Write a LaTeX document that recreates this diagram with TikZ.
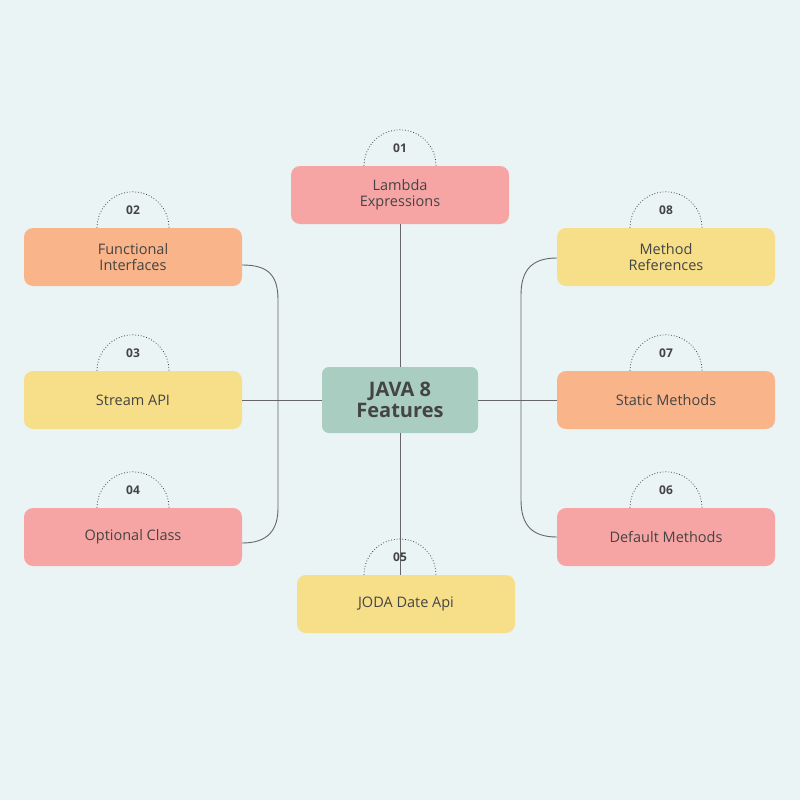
\documentclass[tikz,border=0pt]{standalone}
\usepackage{fontspec}
\setmainfont{Open Sans}
\usetikzlibrary{positioning}
\definecolor{bgc}{HTML}{EAF4F5}
\definecolor{pinkc}{HTML}{F7A4A4}
\definecolor{orangec}{HTML}{F9B48A}
\definecolor{yellowc}{HTML}{F7DF8A}
\definecolor{greenc}{HTML}{A9CDC1}
\definecolor{txtc}{HTML}{444444}
\definecolor{linec}{HTML}{666666}
\tikzset{
  feature/.style={rounded corners=9pt, minimum width=218pt, minimum height=58pt,
    align=center, text=txtc, font=\fontsize{14.5}{16}\selectfont, inner sep=0pt},
  hub/.style={rounded corners=7pt, fill=greenc, minimum width=156pt, minimum height=66pt,
    align=center, text=txtc, font=\fontsize{20}{21}\selectfont\bfseries, inner sep=0pt},
  numtag/.style={text=txtc, font=\fontsize{12}{13}\selectfont\bfseries},
  link/.style={linec, line width=0.9pt},
}
\newcommand\tagarc[2]{%
  \draw[dotted, line width=0.8pt, txtc] ([xshift=-36pt]#1.north) arc[start angle=180, end angle=0, radius=36pt];
  \node[numtag] at ([yshift=18pt]#1.north) {#2};}
\begin{document}
\begin{tikzpicture}[x=1pt, y=-1pt]
  \fill[bgc] (0,0) rectangle (800,800);
  \useasboundingbox (0,0) rectangle (800,800);
  % hub and features
  \node[hub] (java) at (400,400) {JAVA 8\\Features};
  \node[feature, fill=pinkc]   (lambda)  at (400,195) {Lambda\\Expressions};
  \node[feature, fill=orangec] (func)    at (133,257) {Functional\\Interfaces};
  \node[feature, fill=yellowc] (stream)  at (133,400) {Stream API};
  \node[feature, fill=pinkc]   (opt)     at (133,537) {Optional Class};
  \node[feature, fill=yellowc] (joda)    at (406,604) {JODA Date Api};
  \node[feature, fill=yellowc] (methref) at (666,257) {Method\\References};
  \node[feature, fill=orangec] (static)  at (666,400) {Static Methods};
  \node[feature, fill=pinkc]   (default) at (666,537) {Default Methods};
  % connectors
  \draw[link] (lambda.south) -- (java.north);
  \draw[link] (java.south) -- (joda.north -| java.south);
  \draw[link] (stream.east) -- (java.west);
  \draw[link] (java.east) -- (static.west);
  \draw[link] (func.east) ++(0,8) coordinate (f1) (opt.east) ++(0,6) coordinate (o1);
  \draw[link] (f1) .. controls (268,265) and (278,275) .. (278,300) -- (278,508)
    .. controls (278,530) and (268,543) .. (o1);
  \draw[link] (methref.west) ++(0,1) coordinate (m1) (default.west) coordinate (d1);
  \draw[link] (m1) .. controls (532,258) and (521,270) .. (521,295) -- (521,500)
    .. controls (521,525) and (532,537) .. (d1);
  % number tags
  \tagarc{lambda}{01}
  \tagarc{func}{02}
  \tagarc{stream}{03}
  \tagarc{opt}{04}
  \draw[dotted, line width=0.8pt, txtc] (364,575) arc[start angle=180, end angle=0, radius=36pt];
  \node[numtag] at (400,557) {05};
  \tagarc{default}{06}
  \tagarc{static}{07}
  \tagarc{methref}{08}
\end{tikzpicture}
\end{document}
